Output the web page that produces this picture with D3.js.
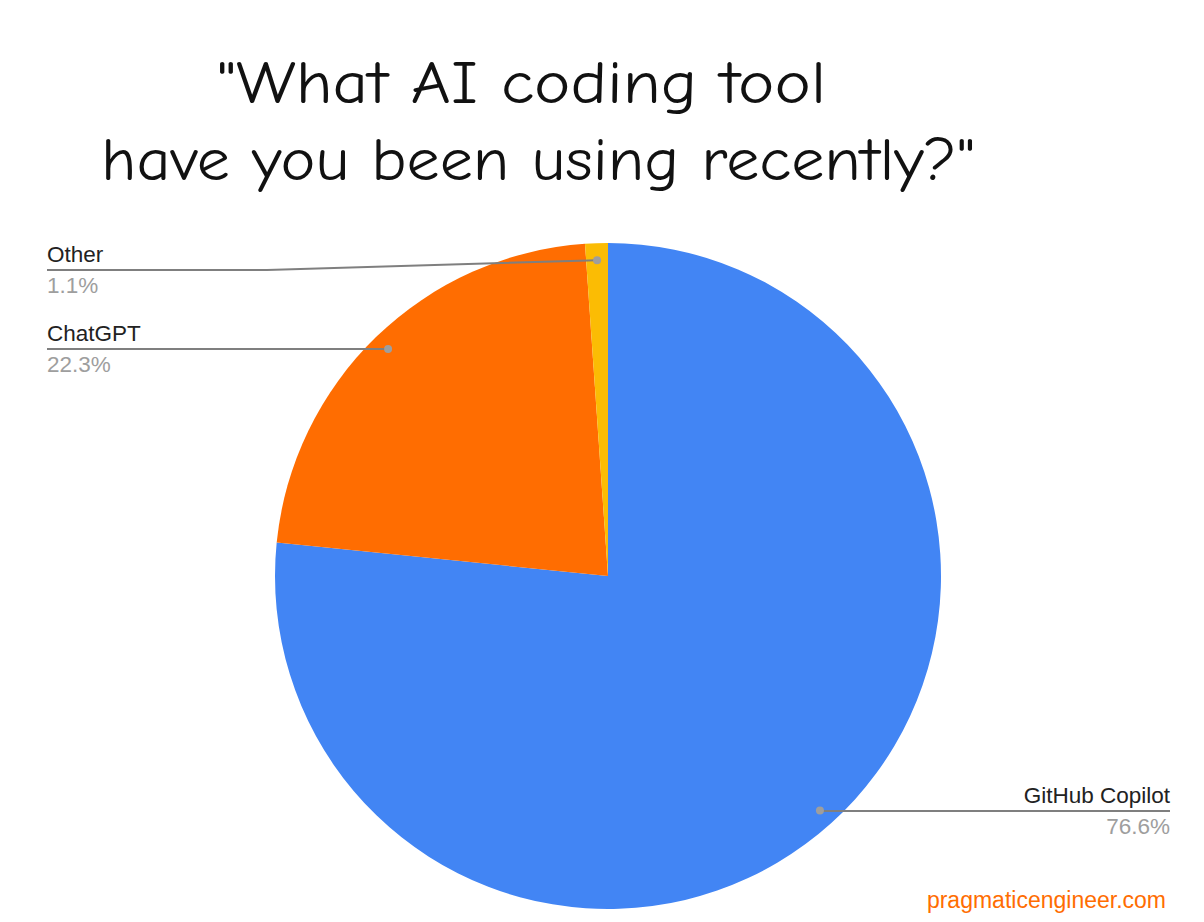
<!DOCTYPE html>
<html>
  <head>
    <title>AI coding tools</title>
    <script src="https://cdn.jsdelivr.net/npm/d3@7"></script>
    <style>
      body { margin: 0; background: #fff; }
    </style>
  </head>
  <body>
    <svg width="1204" height="922" id="mainsvg"></svg>
    <script>
        // data
        const categories = ['GitHub Copilot', 'ChatGPT', 'Other'];
        const shares = [76.6, 22.3, 1.1];
        const colors = ['#4285f4', '#ff6d01', '#fbbc04'];
        const titleLines = ['"What AI coding tool', 'have you been using recently?"'];

        const data = categories.map((name, i) => ({name: name, value: shares[i], color: colors[i]}));

        const svg = d3.select('#mainsvg');
        const cx = 608, cy = 576, radius = 333;

        // title (hand-drawn font not available, so stretch a plain one)
        const titleFont = '"Comic Sans MS", "Comic Neue", "DejaVu Sans", sans-serif';
        const titleSpec = [{y: 103, x0: 217, x1: 826}, {y: 180, x0: 101, x1: 975}];
        titleLines.forEach((t, i) => {
          svg.append('text')
            .text(t)
            .attr('x', titleSpec[i].x0)
            .attr('y', titleSpec[i].y)
            .attr('textLength', titleSpec[i].x1 - titleSpec[i].x0)
            .attr('lengthAdjust', 'spacingAndGlyphs')
            .attr('font-family', titleFont)
            .attr('font-size', 60)
            .attr('fill', '#111');
        });

        const pie = d3.pie().sort(null).value(d => d.value);
        const arcs = pie(data);
        const arc = d3.arc().innerRadius(0).outerRadius(radius);
        const labelArc = d3.arc().innerRadius(316 * 2 - radius).outerRadius(radius);

        const g = svg.append('g').attr('transform', `translate(${cx}, ${cy})`);

        g.selectAll('path').data(arcs).join('path')
          .attr('d', arc)
          .attr('fill', d => d.data.color);

        // leader lines + labels
        const font = 'Helvetica, Arial, "Liberation Sans", sans-serif';
        const labelPos = {
          'Other': {x: 47, y: 270, side: 'left', bend: 267},
          'ChatGPT': {x: 47, y: 349, side: 'left', bend: null},
          'GitHub Copilot': {x: 1170, y: 811, side: 'right', bend: null}
        };

        arcs.forEach(d => {
          const [px, py] = labelArc.centroid(d);
          const dotX = cx + px, dotY = cy + py;
          const p = labelPos[d.data.name];
          const pts = [[dotX, dotY]];
          if (p.bend !== null) pts.push([p.bend, p.y]);
          else pts.push([dotX, p.y]);
          pts.push([p.x, p.y]);

          svg.append('path')
            .attr('d', d3.line()(pts))
            .attr('fill', 'none')
            .attr('stroke', '#7f7f7f')
            .attr('stroke-width', 2);

          svg.append('circle')
            .attr('cx', dotX).attr('cy', dotY).attr('r', 4)
            .attr('fill', '#9e9e9e');

          const anchor = p.side === 'left' ? 'start' : 'end';
          svg.append('text')
            .text(d.data.name)
            .attr('x', p.x).attr('y', p.y - 8)
            .attr('text-anchor', anchor)
            .attr('font-family', font)
            .attr('font-size', 22.5)
            .attr('fill', '#222');
          svg.append('text')
            .text(d3.format('.1f')(d.data.value) + '%')
            .attr('x', p.x).attr('y', p.y + 23)
            .attr('text-anchor', anchor)
            .attr('font-family', font)
            .attr('font-size', 22.5)
            .attr('fill', '#9e9e9e');
        });

        svg.append('text')
          .text('pragmaticengineer.com')
          .attr('x', 1166).attr('y', 908)
          .attr('text-anchor', 'end')
          .attr('font-family', font)
          .attr('font-size', 23)
          .attr('fill', '#ff6d01');
    </script>
  </body>
</html>
